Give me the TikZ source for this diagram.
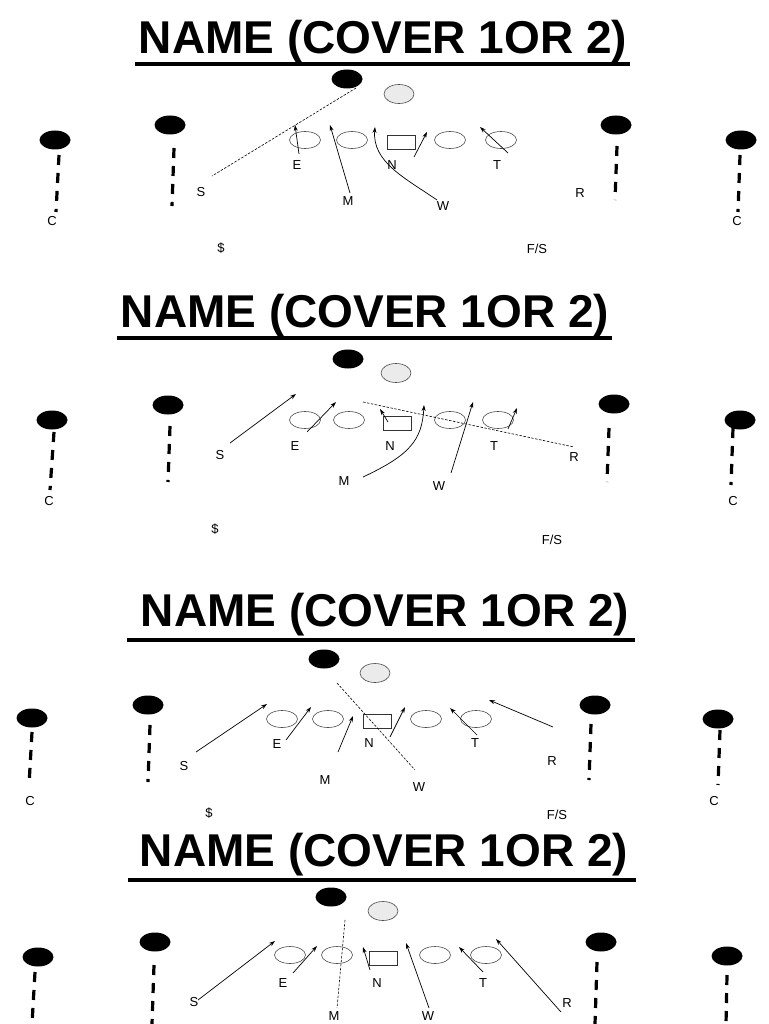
\documentclass[tikz,border=0pt]{standalone}
\usepackage{fontspec}
\setmainfont{Liberation Sans}
\usetikzlibrary{arrows.meta,shapes.geometric}
\begin{document}
\begin{tikzpicture}[x=1pt,y=-1pt,
  ttl/.style={font=\fontsize{46}{48}\selectfont\bfseries,inner sep=0},
  uline/.style={line width=3.2pt},
  lab/.style={font=\fontsize{13}{14}\selectfont,inner sep=0},
  wr/.style={ellipse,fill=black,minimum width=31pt,minimum height=19pt,inner sep=0},
  ballst/.style={ellipse,draw=black!70,fill=black!8,line width=0.6pt,minimum width=30pt,minimum height=19pt,inner sep=0},
  ol/.style={ellipse,draw=black!70,line width=0.6pt,minimum width=31pt,minimum height=17pt,inner sep=0},
  ctr/.style={rectangle,draw=black!80,line width=0.6pt,minimum width=28pt,minimum height=14pt,inner sep=0},
  route/.style={line width=3.2pt,dash pattern=on 10pt off 8pt},
  arr/.style={-{Stealth[length=6pt,width=4pt]},line width=0.7pt},
  zone/.style={line width=0.6pt,dash pattern=on 2.5pt off 1.5pt}]
\path[use as bounding box,fill=white] (0,0) rectangle (768,1024);

% ---------- Diagram 1 ----------
\node[ttl] (t1) at (383,42) {NAME (COVER 1OR 2)};
\coordinate (u1a) at (135,64); \coordinate (u1b) at (630,64);
\draw[uline] (u1a) -- (u1b);
\node[wr] (q1) at (347,79) {}; \node[ballst] (b1) at (399,94) {};
\node[wr] (w1a) at (55,140) {}; \node[wr] (w1b) at (170,125) {};
\node[wr] (w1c) at (616,125) {}; \node[wr] (w1d) at (741,140) {};
\coordinate (r1a) at (59,155); \coordinate (r1ae) at (56,212);
\coordinate (r1b) at (174,148); \coordinate (r1be) at (172,206);
\coordinate (r1c) at (617,146); \coordinate (r1ce) at (615,200);
\coordinate (r1d) at (740,155); \coordinate (r1de) at (738,212);
\draw[route] (r1a)--(r1ae); \draw[route] (r1b)--(r1be); \draw[route] (r1c)--(r1ce); \draw[route] (r1d)--(r1de);
\node[ol] (o1a) at (305,140) {}; \node[ol] (o1b) at (352,140) {}; \node[ctr] (o1c) at (401,142) {};
\node[ol] (o1d) at (450,140) {}; \node[ol] (o1e) at (501,140) {};
\node[lab] (E1) at (297,165) {E}; \node[lab] (N1) at (392,165) {N}; \node[lab] (T1) at (497,165) {T};
\node[lab] (S1) at (201,192) {S}; \node[lab] (M1) at (348,201) {M}; \node[lab] (W1) at (443,206) {W};
\node[lab] (R1) at (580,193) {R}; \node[lab] (C1a) at (52,221) {C}; \node[lab] (C1b) at (737,221) {C};
\node[lab] (D1) at (221,248) {\$}; \node[lab] (F1) at (537,249) {F/S};
\coordinate (z1a) at (356,88); \coordinate (z1b) at (212,176);
\draw[zone] (z1a) -- (z1b);
\coordinate (e1s) at (299,154); \coordinate (e1e) at (295,125);
\coordinate (m1s) at (350,193); \coordinate (m1e) at (330,125);
\coordinate (w1s) at (437,200); \coordinate (w1e) at (375,127);
\coordinate (n1s) at (414,157); \coordinate (n1e) at (427,132);
\coordinate (t1s) at (508,153); \coordinate (t1e) at (480,127);
\draw[arr] (e1s)--(e1e); \draw[arr] (m1s)--(m1e);
\draw[arr] (w1s) .. controls (405,178) and (372,162) .. (w1e);
\draw[arr] (n1s)--(n1e); \draw[arr] (t1s)--(t1e);

% ---------- Diagram 2 ----------
\node[ttl] (t2) at (365,316) {NAME (COVER 1OR 2)};
\coordinate (u2a) at (117,338); \coordinate (u2b) at (612,338);
\draw[uline] (u2a) -- (u2b);
\node[wr] (q2) at (348,359) {}; \node[ballst] (b2) at (396,373) {};
\node[wr] (w2a) at (52,420) {}; \node[wr] (w2b) at (168,405) {};
\node[wr] (w2c) at (614,404) {}; \node[wr] (w2d) at (740,420) {};
\coordinate (r2a) at (54,432); \coordinate (r2ae) at (50,490);
\coordinate (r2b) at (170,426); \coordinate (r2be) at (168,482);
\coordinate (r2c) at (609,428); \coordinate (r2ce) at (607,482);
\coordinate (r2d) at (733,428); \coordinate (r2de) at (731,485);
\draw[route] (r2a)--(r2ae); \draw[route] (r2b)--(r2be); \draw[route] (r2c)--(r2ce); \draw[route] (r2d)--(r2de);
\node[ol] (o2a) at (305,420) {}; \node[ol] (o2b) at (349,420) {}; \node[ctr] (o2c) at (397,423) {};
\node[ol] (o2d) at (450,420) {}; \node[ol] (o2e) at (498,420) {};
\node[lab] (E2) at (295,446) {E}; \node[lab] (N2) at (390,446) {N}; \node[lab] (T2) at (494,446) {T};
\node[lab] (S2) at (220,455) {S}; \node[lab] (M2) at (344,481) {M}; \node[lab] (W2) at (439,486) {W};
\node[lab] (R2) at (574,457) {R}; \node[lab] (C2a) at (49,501) {C}; \node[lab] (C2b) at (733,501) {C};
\node[lab] (D2) at (215,529) {\$}; \node[lab] (F2) at (552,540) {F/S};
\coordinate (z2a) at (363,402); \coordinate (z2b) at (574,447);
\draw[zone] (z2a) -- (z2b);
\coordinate (s2s) at (230,443); \coordinate (s2e) at (296,394);
\coordinate (e2s) at (307,432); \coordinate (e2e) at (336,402);
\coordinate (n2s) at (388,422); \coordinate (n2e) at (380,409);
\coordinate (m2s) at (363,477); \coordinate (m2e) at (424,405);
\coordinate (w2s) at (451,473); \coordinate (w2e) at (473,402);
\coordinate (t2s) at (508,429); \coordinate (t2e) at (517,408);
\draw[arr] (s2s)--(s2e); \draw[arr] (e2s)--(e2e); \draw[arr] (n2s)--(n2e);
\draw[arr] (m2s) .. controls (410,455) and (422,440) .. (m2e);
\draw[arr] (w2s)--(w2e); \draw[arr] (t2s)--(t2e);

% ---------- Diagram 3 ----------
\node[ttl] (t3) at (385,615) {NAME (COVER 1OR 2)};
\coordinate (u3a) at (127,640); \coordinate (u3b) at (635,640);
\draw[uline] (u3a) -- (u3b);
\node[wr] (q3) at (324,659) {}; \node[ballst] (b3) at (375,673) {};
\node[wr] (w3a) at (32,718) {}; \node[wr] (w3b) at (148,705) {};
\node[wr] (w3c) at (595,705) {}; \node[wr] (w3d) at (718,719) {};
\coordinate (r3a) at (32,732); \coordinate (r3ae) at (29,785);
\coordinate (r3b) at (150,725); \coordinate (r3be) at (148,782);
\coordinate (r3c) at (591,724); \coordinate (r3ce) at (589,780);
\coordinate (r3d) at (720,730); \coordinate (r3de) at (718,785);
\draw[route] (r3a)--(r3ae); \draw[route] (r3b)--(r3be); \draw[route] (r3c)--(r3ce); \draw[route] (r3d)--(r3de);
\node[ol] (o3a) at (282,719) {}; \node[ol] (o3b) at (328,719) {}; \node[ctr] (o3c) at (377,721) {};
\node[ol] (o3d) at (426,719) {}; \node[ol] (o3e) at (476,719) {};
\node[lab] (E3) at (277,744) {E}; \node[lab] (N3) at (369,743) {N}; \node[lab] (T3) at (475,743) {T};
\node[lab] (S3) at (184,766) {S}; \node[lab] (M3) at (325,780) {M}; \node[lab] (W3) at (419,787) {W};
\node[lab] (R3) at (552,761) {R}; \node[lab] (C3a) at (30,801) {C}; \node[lab] (C3b) at (714,801) {C};
\node[lab] (D3) at (209,813) {\$}; \node[lab] (F3) at (557,815) {F/S};
\coordinate (z3a) at (337,683); \coordinate (z3b) at (415,770);
\draw[zone] (z3a) -- (z3b);
\coordinate (s3s) at (196,752); \coordinate (s3e) at (267,704);
\coordinate (e3s) at (286,740); \coordinate (e3e) at (311,707);
\coordinate (m3s) at (338,752); \coordinate (m3e) at (353,716);
\coordinate (n3s) at (390,737); \coordinate (n3e) at (405,707);
\coordinate (t3s) at (477,735); \coordinate (t3e) at (450,708);
\coordinate (rr3s) at (553,727); \coordinate (rr3e) at (489,700);
\draw[arr] (s3s)--(s3e); \draw[arr] (e3s)--(e3e); \draw[arr] (m3s)--(m3e);
\draw[arr] (n3s)--(n3e); \draw[arr] (t3s)--(t3e); \draw[arr] (rr3s)--(rr3e);

% ---------- Diagram 4 ----------
\node[ttl] (t4) at (384,855) {NAME (COVER 1OR 2)};
\coordinate (u4a) at (128,880); \coordinate (u4b) at (636,880);
\draw[uline] (u4a) -- (u4b);
\node[wr] (q4) at (331,897) {}; \node[ballst] (b4) at (383,911) {};
\node[wr] (w4a) at (38,957) {}; \node[wr] (w4b) at (155,942) {};
\node[wr] (w4c) at (601,942) {}; \node[wr] (w4d) at (727,956) {};
\coordinate (r4a) at (35,972); \coordinate (r4ae) at (32,1024);
\coordinate (r4b) at (154,965); \coordinate (r4be) at (152,1024);
\coordinate (r4c) at (597,962); \coordinate (r4ce) at (595,1024);
\coordinate (r4d) at (727,975); \coordinate (r4de) at (726,1024);
\draw[route] (r4a)--(r4ae); \draw[route] (r4b)--(r4be); \draw[route] (r4c)--(r4ce); \draw[route] (r4d)--(r4de);
\node[ol] (o4a) at (290,955) {}; \node[ol] (o4b) at (337,955) {}; \node[ctr] (o4c) at (383,958) {};
\node[ol] (o4d) at (435,955) {}; \node[ol] (o4e) at (486,955) {};
\node[lab] (E4) at (283,983) {E}; \node[lab] (N4) at (377,983) {N}; \node[lab] (T4) at (483,983) {T};
\node[lab] (S4) at (194,1002) {S}; \node[lab] (M4) at (334,1016) {M}; \node[lab] (W4) at (428,1016) {W};
\node[lab] (R4) at (567,1003) {R};
\coordinate (z4a) at (345,920); \coordinate (z4b) at (337,1008);
\draw[zone] (z4a) -- (z4b);
\coordinate (s4s) at (198,1000); \coordinate (s4e) at (275,941);
\coordinate (e4s) at (293,973); \coordinate (e4e) at (317,946);
\coordinate (n4s) at (370,970); \coordinate (n4e) at (363,947);
\coordinate (w4s) at (429,1008); \coordinate (w4e) at (406,943);
\coordinate (t4s) at (483,972); \coordinate (t4e) at (459,947);
\coordinate (rr4s) at (561,1012); \coordinate (rr4e) at (496,939);
\draw[arr] (s4s)--(s4e); \draw[arr] (e4s)--(e4e); \draw[arr] (n4s)--(n4e);
\draw[arr] (w4s)--(w4e); \draw[arr] (t4s)--(t4e); \draw[arr] (rr4s)--(rr4e);
\end{tikzpicture}
\end{document}
